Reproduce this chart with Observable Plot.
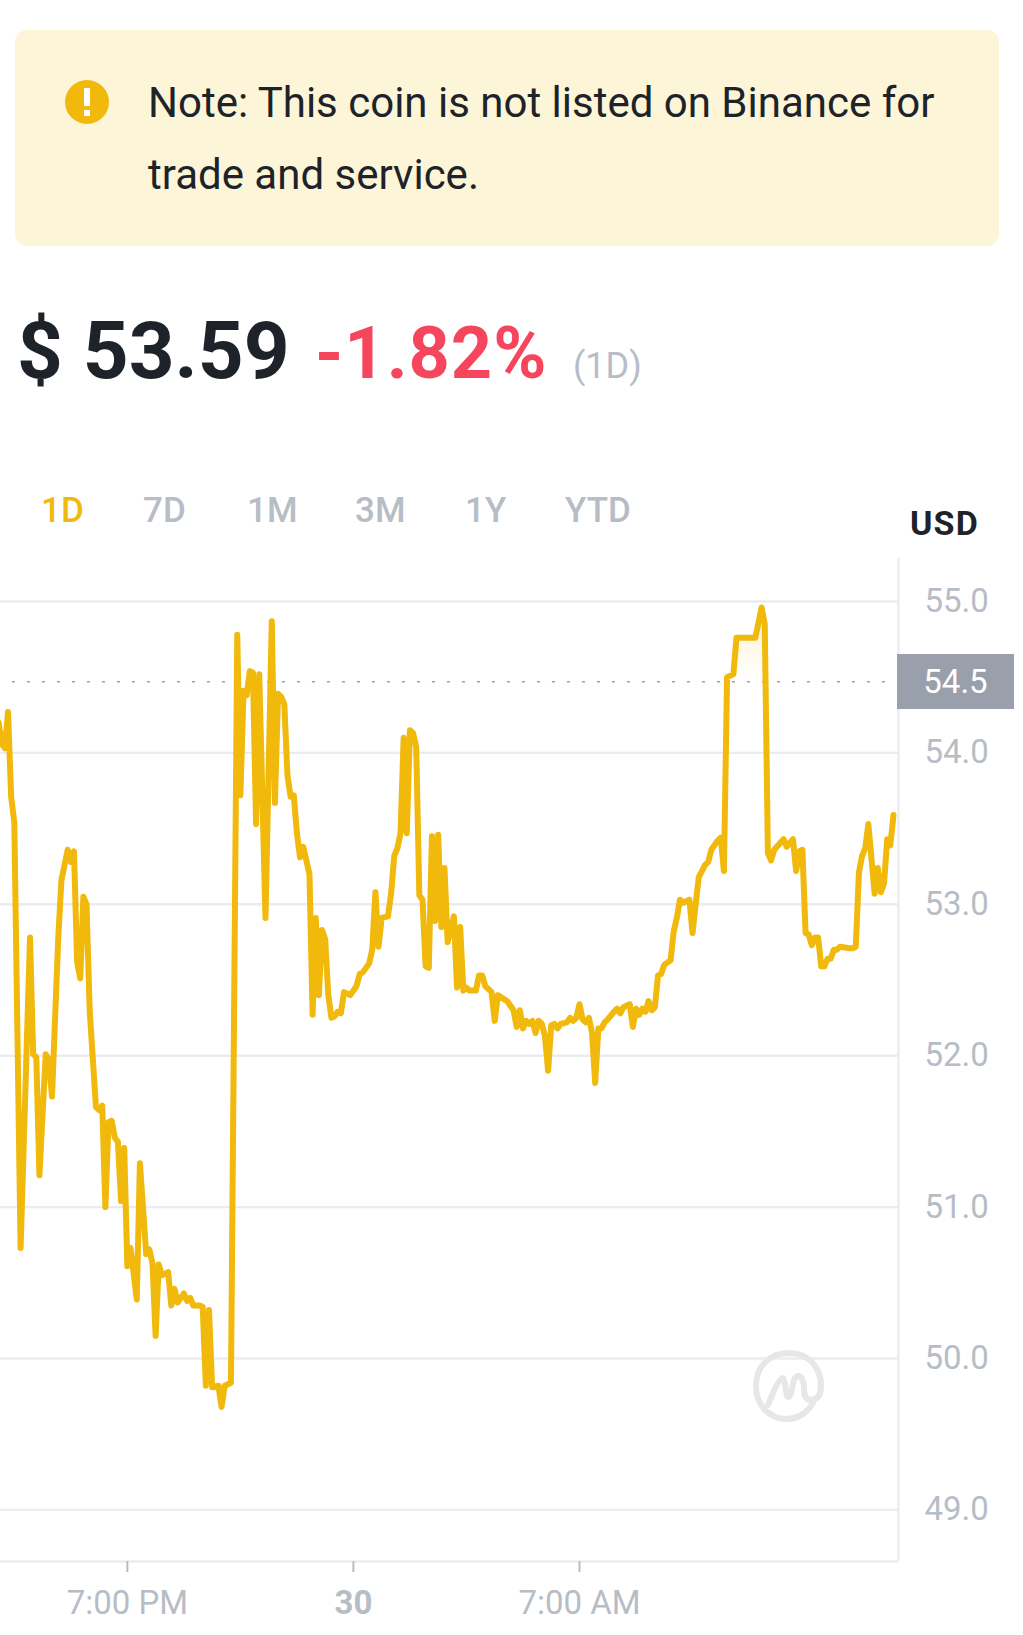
<!DOCTYPE html>
<html><head><meta charset="utf-8">
<script src="https://cdn.jsdelivr.net/npm/d3@7"></script>
<script src="https://cdn.jsdelivr.net/npm/@observablehq/plot@0.6"></script>
<style>
html,body{margin:0;padding:0;background:#fff;font-family:Roboto,sans-serif;}
#page{position:relative;width:1023px;height:1635px;overflow:hidden;}
#page>*{position:absolute;white-space:nowrap;}
#banner{left:15px;top:30px;width:984px;height:216px;background:#fdf5d8;border-radius:12px;}
.note{left:148px;font-size:42px;line-height:72px;color:#1e2329;}
.tab{top:490px;font-size:35px;line-height:42px;font-weight:500;color:#b7bdc6;}
#chart{left:0;top:555px;}
#hover{left:897px;top:654px;width:117px;height:55px;background:#9aa0ab;color:#fff;font-size:33px;line-height:55px;text-align:center;}
</style></head><body>
<div id="page">
<div id="banner"></div>
<svg style="left:64px;top:79px" width="46" height="46" viewBox="0 0 46 46"><circle cx="23" cy="23" r="22" fill="#f0b90b"/><rect x="20" y="9" width="6" height="18" fill="#fff"/><rect x="20" y="31" width="6" height="6" fill="#fff"/></svg>
<div class="note" style="top:67px">Note: This coin is not listed on Binance for</div>
<div class="note" style="top:139px">trade and service.</div>
<div style="left:17px;top:304px;font-size:80px;line-height:94px;font-weight:700;color:#1e2329">$ 53.59</div>
<div style="left:315px;top:307px;font-size:72px;line-height:94px;font-weight:700;color:#f6465d;letter-spacing:1px">-1.82%</div>
<div style="left:573px;top:344px;font-size:36px;line-height:44px;color:#b7bdc6">(1D)</div>
<div class="tab" style="left:41px;color:#f0b90b">1D</div>
<div class="tab" style="left:143px">7D</div>
<div class="tab" style="left:247px">1M</div>
<div class="tab" style="left:355px">3M</div>
<div class="tab" style="left:465px">1Y</div>
<div class="tab" style="left:565px">YTD</div>
<div style="left:910px;top:502px;font-size:34px;line-height:42px;font-weight:700;color:#1e2329;letter-spacing:1.2px">USD</div>
<svg width="0" height="0" style="left:0;top:0"><defs><linearGradient id="plateau" x1="0" y1="0" x2="0" y2="1"><stop offset="0" stop-color="#f0b90b" stop-opacity="0.2"/><stop offset="1" stop-color="#f0b90b" stop-opacity="0"/></linearGradient></defs></svg>
<div id="chart"></div>
<div id="hover">54.5</div>
<svg style="left:751px;top:1348px" width="76" height="76" viewBox="0 0 76 76" fill="none" stroke="#e6e7e8" stroke-width="6" stroke-linecap="round" stroke-linejoin="round">
<path d="M62 55 C55 67 44 71 36 71 C18 71 5 57 5 38 C5 19 18 5 38 5 C57 5 70 19 70 38 C70 49 65 52 60 52 C54 52 53 46 53 40 C53 34 51 28 47 28 C43 28 42 36 41 41 C40 47 38 51 36 48 C35 44 34 32 32 30 C28 30 21 47 17 57"/>
</svg>
</div>
<script>
// five-minute sample number of each price reading
const samples = [-1,0,1,2,3,4,6,9,10,11,12,14,15,16,18,19,21,22,23,24,25,26,27,28,30,31,32,33,34,35,36,37,38,39,40,41,43,44,46,47,48,49,50,51,53,54,55,56,58,59,60,61,63,64,65,66,67,69,70,71,73,75,76,77,78,79,80,81,82,84,86,87,88,89,90,91,92,93,94,95,96,97,98,99,100,101,102,103,104,105,106,107,108,109,111,113,114,115,117,118,119,120,121,123,124,125,126,127,128,129,130,131,132,133,134,135,136,137,138,139,140,141,142,144,145,146,147,148,149,151,152,153,154,156,157,158,161,163,164,165,166,167,168,169,170,171,172,173,174,175,176,177,178,180,181,182,183,184,185,186,187,188,189,190,191,192,193,195,196,197,198,200,201,202,203,204,205,206,207,208,209,210,211,213,214,215,216,217,219,220,221,222,224,225,226,228,229,230,231,233,234,240,242,243,244,245,246,249,250,252,253,254,255,256,257,258,259,260,261,262,263,264,265,266,267,270,271,272,273,274,275,276,278,279,280,281,282,283,284];
const prices = [54.2,54.06,54.03,54.27,53.71,53.54,50.73,52.78,52.01,51.99,51.21,52.01,51.97,51.73,52.78,53.16,53.36,53.28,53.35,52.62,52.51,53.05,53.0,52.3,51.66,51.64,51.67,51.0,51.56,51.57,51.46,51.43,51.04,51.39,50.61,50.73,50.39,51.29,50.69,50.72,50.63,50.15,50.62,50.55,50.57,50.35,50.46,50.37,50.43,50.38,50.4,50.35,50.35,50.34,49.82,50.32,49.81,49.82,49.68,49.82,49.84,54.78,53.72,54.41,54.38,54.54,54.53,53.53,54.52,52.91,54.87,53.67,54.39,54.37,54.32,53.85,53.71,53.72,53.47,53.31,53.38,53.29,53.2,52.27,52.91,52.4,52.83,52.77,52.4,52.25,52.26,52.29,52.28,52.42,52.4,52.46,52.54,52.55,52.61,52.7,53.08,52.72,52.91,52.92,53.07,53.32,53.37,53.47,54.1,53.47,54.15,54.13,54.04,53.06,53.03,52.59,52.58,53.45,52.89,53.46,52.85,53.24,52.75,52.92,52.45,52.85,52.43,52.45,52.43,52.43,52.53,52.53,52.46,52.42,52.23,52.4,52.36,52.3,52.19,52.3,52.18,52.23,52.21,52.23,52.15,52.23,52.21,52.13,51.9,52.2,52.21,52.18,52.21,52.22,52.25,52.23,52.25,52.34,52.24,52.22,52.25,52.15,51.82,52.18,52.18,52.22,52.24,52.29,52.31,52.28,52.32,52.34,52.19,52.31,52.27,52.31,52.29,52.36,52.3,52.32,52.53,52.54,52.6,52.63,52.82,52.91,53.03,53.01,53.03,52.81,53.0,53.18,53.26,53.28,53.36,53.42,53.44,53.22,54.5,54.52,54.76,54.76,54.96,54.85,53.34,53.29,53.36,53.43,53.38,53.43,53.22,53.35,53.36,52.81,52.8,52.73,52.78,52.78,52.59,52.59,52.64,52.64,52.7,52.7,52.72,52.71,52.71,52.72,53.21,53.32,53.37,53.53,53.07,53.24,53.08,53.14,53.43,53.39,53.59];
const series = samples.map((s, i) => ({s, p: prices[i]}));
const priceTicks = [49, 50, 51, 52, 53, 54, 55];
const timeTicks = [40, 112, 184];
const timeLabels = ["7:00 PM", "30", "7:00 AM"];
const hoverPrice = 54.47;
const plateau = series.filter(d => d.s >= 233 && d.s <= 243);
const sLeft = -0.4, sRight = 285.6, pBottom = 48.659, pTop = 55.284;
const gridColor = "#eaecef", labelColor = "#b7bdc6";
const timeLabel = d => timeLabels[timeTicks.indexOf(d)];

const chart = Plot.plot({
  width: 1023, height: 1080,
  marginLeft: 0, marginRight: 125, marginTop: 3, marginBottom: 74,
  style: {fontFamily: "Roboto, sans-serif", background: "transparent", overflow: "visible"},
  x: {domain: [sLeft, sRight]},
  y: {domain: [pBottom, pTop]},
  marks: [
    Plot.gridY(priceTicks, {stroke: gridColor, strokeOpacity: 1, strokeWidth: 2.4}),
    Plot.ruleY([pBottom], {stroke: gridColor, strokeWidth: 2.4}),
    Plot.ruleX([sRight], {stroke: gridColor, strokeWidth: 2.4}),
    Plot.axisY({anchor: "right", ticks: priceTicks, tickSize: 0, tickPadding: 26, fontSize: 33, color: labelColor, tickFormat: d => d.toFixed(1), label: null}),
    Plot.axisX({ticks: [40, 184], tickSize: 11, tickPadding: 18, fontSize: 33, color: labelColor, strokeWidth: 2, tickFormat: timeLabel, label: null}),
    Plot.axisX({ticks: [112], tickSize: 11, tickPadding: 18, fontSize: 33, fontWeight: 700, color: labelColor, strokeWidth: 2, tickFormat: timeLabel, label: null}),
    Plot.ruleY([hoverPrice], {x1: 3.4, x2: 282.4, stroke: "#9aa0ab", strokeWidth: 1.5, strokeDasharray: "3,12"}),
    Plot.areaY(plateau, {x: "s", y1: hoverPrice, y2: "p", fill: "url(#plateau)"}),
    Plot.lineY(series, {x: "s", y: "p", stroke: "#f0b90b", strokeWidth: 6, clip: true})
  ]
});
document.getElementById("chart").append(chart);
</script>
</body></html>
